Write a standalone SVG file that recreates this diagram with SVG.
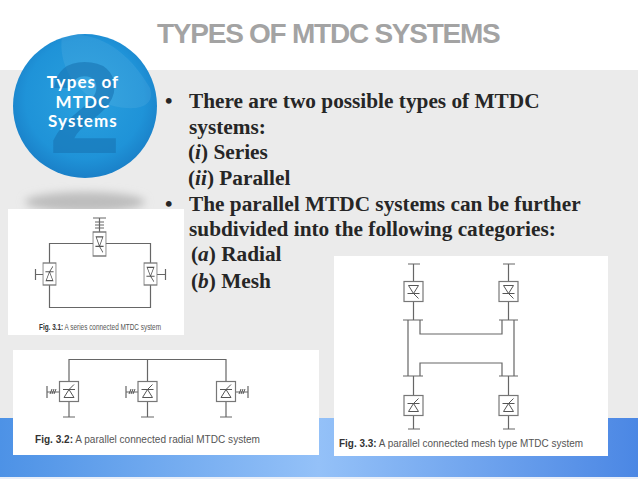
<svg xmlns="http://www.w3.org/2000/svg" xmlns:xlink="http://www.w3.org/1999/xlink" width="638" height="479" viewBox="0 0 638 479">
<style>
.w{fill:none;stroke:#666;stroke-width:1.2}
.b{fill:#fff;stroke:#777;stroke-width:1.2}
.s{fill:none;stroke:#555;stroke-width:1}
.body{font-family:"Liberation Serif",serif;font-weight:bold;font-size:21.3px;fill:#262626}
.cap{font-family:"Liberation Sans",sans-serif;fill:#555}
.cap tspan{font-weight:bold;fill:#333}
.fig{fill:#fff}
.lab{font-family:Lato,sans-serif;font-weight:bold;font-size:17px;fill:#fff;text-anchor:middle;letter-spacing:1.1px}
</style>
<defs>
<linearGradient id="band" x1="0" x2="1" y1="0" y2="0"><stop offset="0" stop-color="#4d92e6"/><stop offset=".5" stop-color="#94c1f8"/><stop offset="1" stop-color="#4b87e4"/></linearGradient>
<radialGradient id="ball" cx=".5" cy=".45" r=".55"><stop offset="0" stop-color="#2aa0de"/><stop offset=".75" stop-color="#1f93d8"/><stop offset="1" stop-color="#1a80c8"/></radialGradient>
<filter id="soft" x="-30%" y="-100%" width="160%" height="300%"><feGaussianBlur stdDeviation="4"/></filter>
<filter id="scan" x="-5%" y="-5%" width="110%" height="110%"><feGaussianBlur stdDeviation=".35"/></filter>
<g id="up"><rect class="b" x="-9.5" y="-10" width="19" height="20"/><path class="s" d="M0-2L-5 6H5ZM-6-2H6M0-2L5-7"/></g>
<g id="down"><rect class="b" x="-9.5" y="-10" width="19" height="20"/><path class="s" d="M0 2L-5-6H5ZM-6 2H6M0 2L5 7"/></g>
</defs>
<rect width="638" height="479" fill="#fff"/>
<rect y="70" width="638" height="348" fill="#ebebeb"/>
<rect y="418" width="638" height="59" fill="url(#band)"/>
<rect y="477" width="638" height="2" fill="#e8eef8"/>
<text x="157" y="43" font-family="Liberation Sans,sans-serif" font-weight="bold" font-size="28px" fill="#a3a3a3" letter-spacing="-1.25">TYPES OF MTDC SYSTEMS</text>
<g id="badge">
<ellipse cx="85" cy="202" rx="60" ry="10" fill="#bdbdbd" filter="url(#soft)"/>
<circle cx="85" cy="106" r="72" fill="url(#ball)"/>
<path d="M62 36C90 30 125 44 150 88C156 108 135 112 110 105C72 95 58 62 62 36Z" fill="#fff" opacity=".07"/>
<text x="85" y="153" font-family="Liberation Sans,sans-serif" font-weight="bold" font-size="130px" fill="#1874b4" opacity=".6" text-anchor="middle">2</text>
<text class="lab" x="83" y="88">Types of</text>
<text class="lab" x="83" y="107.500">MTDC</text>
<text class="lab" x="83" y="127">Systems</text>
</g>
<g id="bullets">
<text class="body" x="165" y="108">•</text>
<text class="body" x="189" y="108">There are two possible types of MTDC</text>
<text class="body" x="189" y="134">systems:</text>
<text class="body" x="188" y="159">(<tspan font-style="italic">i</tspan>) Series</text>
<text class="body" x="188" y="185">(<tspan font-style="italic">ii</tspan>) Parallel</text>
<text class="body" x="165" y="211">•</text>
<text class="body" x="189" y="211">The parallel MTDC systems can be further</text>
<text class="body" x="189" y="236">subdivided into the following categories:</text>
<text class="body" x="191" y="261">(<tspan font-style="italic">a</tspan>) Radial</text>
<text class="body" x="191" y="288">(<tspan font-style="italic">b</tspan>) Mesh</text>
</g>
<rect class="fig" x="8" y="209" width="176" height="126"/>
<rect class="fig" x="13" y="350" width="306" height="105"/>
<rect class="fig" x="334" y="256" width="274" height="200"/>
<g id="connectors" filter="url(#scan)">
<path class="w" d="M49.500 263V243.500H150.500V263M49.500 285V307.500H150.500V285"/>
<path class="w" d="M99.500 232V218M93 218H106M95 222H104M95 225H104M95 228H104"/>
<path class="w" d="M43 274.500H39M35.500 269V280M36 274.500H39M157 274.500H165M165.500 269V280"/>
<path class="w" d="M69 381V359.500H226V381M147.500 359.500V381M69 402V417M63 417H75M147.500 402V417M141 417H154M226 402V417M220 417H232"/>
<path class="w" d="M59 392H47M47 386V398M138 392H126M126 386V398M236 392H248M248 386V398"/>
<path class="s" d="M50 394L52 389M52 394L54 389M54 394L56 389M129 394L131 389M131 394L133 389M133 394L135 389M239 394L241 389M241 394L243 389M243 394L245 389"/>
<path class="w" d="M413.500 282V264M408 264H420M508.500 282V264M503 264H515M413.500 301V320M403 320H423M508.500 301V320M499 320H518M413.500 396V376M403 376H423M508.500 396V376M499 376H518M413.500 415V429M408 429H420M508.500 415V429M503 429H515"/>
<path class="w" d="M408 320V376M514 320V376M420 320V334H502V320M420 376V363H502V376"/>
</g>
<g id="conv-a" filter="url(#scan)"><use href="#down" xlink:href="#down" transform="translate(99.500 244) scale(.68 1.2)"/></g>
<g id="conv-b" filter="url(#scan)"><use href="#up" xlink:href="#up" transform="translate(49.500 274) scale(.68 1.1)"/></g>
<g id="conv-c" filter="url(#scan)"><use href="#down" xlink:href="#down" transform="translate(150.500 274) scale(.68 1.1)"/></g>
<g id="conv-d" filter="url(#scan)"><use href="#up" xlink:href="#up" transform="translate(69 391.500)"/></g>
<g id="conv-e" filter="url(#scan)"><use href="#up" xlink:href="#up" transform="translate(147.500 391.500)"/></g>
<g id="conv-f" filter="url(#scan)"><use href="#up" xlink:href="#up" transform="translate(226 391.500)"/></g>
<g id="conv-g" filter="url(#scan)"><use href="#down" xlink:href="#down" transform="translate(413.500 291.500)"/></g>
<g id="conv-h" filter="url(#scan)"><use href="#down" xlink:href="#down" transform="translate(508.500 291.500)"/></g>
<g id="conv-i" filter="url(#scan)"><use href="#up" xlink:href="#up" transform="translate(413.500 405.500)"/></g>
<g id="conv-j" filter="url(#scan)"><use href="#up" xlink:href="#up" transform="translate(508.500 405.500)"/></g>
<text class="cap" x="39" y="330" font-size="8.800" textLength="122" lengthAdjust="spacingAndGlyphs"><tspan>Fig. 3.1:</tspan> A series connected MTDC system</text>
<text class="cap" x="35" y="442.500" font-size="10.600" textLength="225" lengthAdjust="spacingAndGlyphs"><tspan>Fig. 3.2:</tspan> A parallel connected radial MTDC system</text>
<text class="cap" x="339" y="447" font-size="10.800" textLength="244" lengthAdjust="spacingAndGlyphs"><tspan>Fig. 3.3:</tspan> A parallel connected mesh type MTDC system</text>
</svg>
